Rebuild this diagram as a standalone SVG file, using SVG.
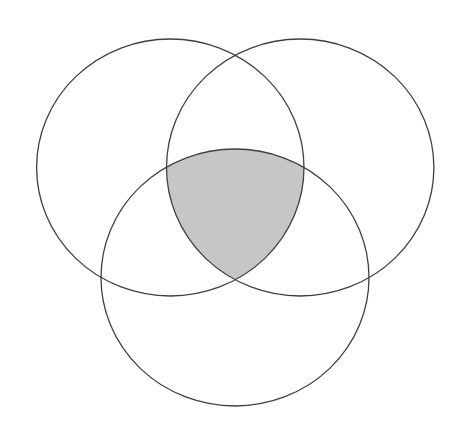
<svg xmlns="http://www.w3.org/2000/svg" width="474" height="435" viewBox="0 0 474 435">
  <style>
    .c { fill: none; stroke: #404040; stroke-width: 1.3; }
  </style>
  <defs>
    <clipPath id="clipA"><ellipse cx="170.3" cy="167.5" rx="133.7" ry="128.5"/></clipPath>
    <clipPath id="clipB"><ellipse cx="300.2" cy="167.5" rx="133.7" ry="128.5"/></clipPath>
  </defs>
  <rect width="474" height="435" fill="#ffffff"/>
  <g id="shaded" clip-path="url(#clipA)">
    <ellipse cx="235" cy="277.5" rx="134" ry="128.5" fill="#c6c6c6" clip-path="url(#clipB)"/>
  </g>
  <g id="setA"><ellipse class="c" cx="170.3" cy="167.5" rx="133.7" ry="128.5"/></g>
  <g id="setB"><ellipse class="c" cx="300.2" cy="167.5" rx="133.7" ry="128.5"/></g>
  <g id="setC"><ellipse class="c" cx="235" cy="277.5" rx="134" ry="128.5"/></g>
</svg>
